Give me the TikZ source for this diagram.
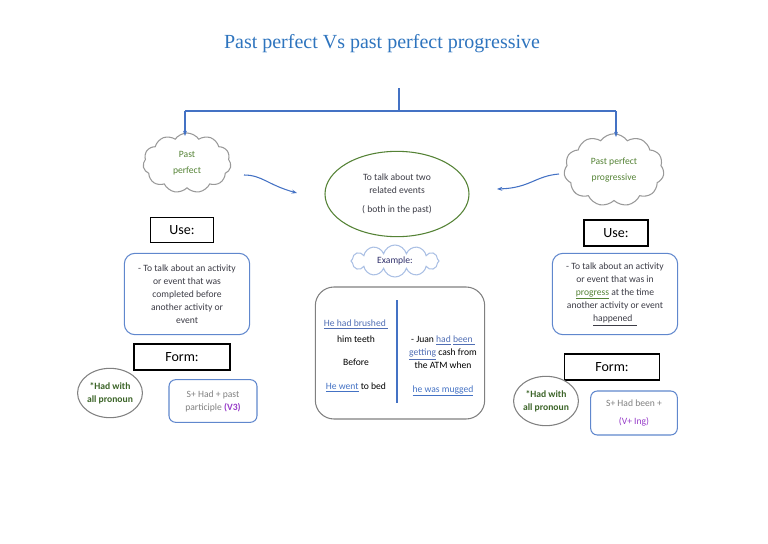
\documentclass[tikz,border=0pt]{standalone}
\usepackage{fontspec}
\setmainfont{Carlito}
\newfontfamily\titlefont{Liberation Serif}
\usetikzlibrary{shapes.symbols,shapes.geometric,arrows.meta}
\definecolor{tblue}{RGB}{46,116,190}
\definecolor{lblue}{RGB}{68,114,196}
\definecolor{dgreen}{RGB}{60,100,40}
\definecolor{ggreen}{RGB}{84,130,53}
\definecolor{purp}{RGB}{150,60,200}
\definecolor{txt}{RGB}{60,60,70}
\definecolor{ulblue}{RGB}{80,110,180}
\newcommand{\ul}[1]{\underline{#1}}
\begin{document}
\begin{tikzpicture}[x=0.75pt,y=-0.75pt,
  every node/.style={font=\fontsize{7.2}{9.8}\selectfont,text=txt,align=center,inner sep=0pt},
  cl/.style={cloud,cloud puffs=11,cloud puff arc=110,draw=gray!80,thick},
  lbl/.style={draw=black,thick,font=\fontsize{10.5}{12}\selectfont,text=black},
  rb/.style={draw=lblue!85,thick,rounded corners=8pt},
  conn/.style={draw=lblue,thick,-{Stealth[length=4pt]}},
  ov/.style={ellipse,draw=gray,thick}]
\useasboundingbox (0,0) rectangle (768,543);
\node[font=\titlefont\fontsize{15}{18}\selectfont,text=tblue] (title) at (382,44) {Past perfect Vs past perfect progressive};
\coordinate (top) at (399,88);
\coordinate (mid) at (399,111);
\coordinate (lc) at (185,111);
\coordinate (rc) at (616,111);
\node[cl,minimum width=66pt,minimum height=45pt,text=ggreen] (pp) at (187,163) {Past\\[2pt]perfect};
\node[cl,minimum width=75pt,minimum height=45pt,text=ggreen] (ppp) at (614,170) {Past perfect\\[2pt]progressive};
\draw[lblue,thick] (top) -- (mid) (lc) -- (rc);
\draw[conn] (lc) -- (185,136);
\draw[conn] (rc) -- (616,137);
\node[ellipse,draw=ggreen,thick,minimum width=108pt,minimum height=64pt] (def) at (397,194) {To talk about two\\related events\\[5pt]( both in the past)};
\coordinate (pa) at (244,175);
\coordinate (pb) at (559,174);
\draw[conn] (pa) .. controls (262,175) and (268,185) .. (297,193);
\draw[conn] (pb) .. controls (535,176) and (530,188) .. (497,189);
\node[lbl,minimum width=47pt,minimum height=19pt] (use1) at (182,230) {Use:};
\node[lbl,minimum width=48pt,minimum height=19.5pt] (use2) at (616,233) {Use:};
\node[rb,minimum width=94pt,minimum height=61pt] (u1) at (187,294) {- To talk about an activity\\or event that was\\completed before\\another activity or\\event};
\node[rb,minimum width=94pt,minimum height=61pt] (u2) at (615,294) {- To talk about an activity\\or event that was in\\{\color{ggreen}\ul{progress}} at the time\\another activity or event\\{\ul{happened\ \ }}};
\node[cloud,cloud puffs=12,aspect=2.8,draw=lblue!45,thick,minimum width=66pt,minimum height=24pt,text=txt!80!blue] (ex) at (395,261) {Example:};
\node[draw=gray,thick,rounded corners=14pt,minimum width=127pt,minimum height=99pt] (exb) at (400,353) {};
\coordinate (d1) at (397,300);
\coordinate (d2) at (397,403);
\draw[lblue,thick] (d1) -- (d2);
\node[text=black] (e1) at (356,356) {{\color{ulblue}\ul{He had brushed }}\\[2pt]him teeth\\[8pt]Before\\[8pt]{\color{lblue}\ul{He went}} to bed};
\node[text=black] (e2) at (443,366) {- Juan {\color{ulblue}\ul{had}} {\color{ulblue}\ul{been }}\\{\color{ulblue}\ul{getting}} cash from\\the ATM when\\[8pt]{\color{lblue}\ul{he was mugged}}};
\node[lbl,minimum width=72pt,minimum height=19.5pt] (f1) at (182,357) {Form:};
\node[lbl,minimum width=71pt,minimum height=19.5pt] (f2) at (612,367) {Form:};
\node[ov,minimum width=45pt,minimum height=37pt,text=dgreen,font=\bfseries\fontsize{7.2}{9.8}\selectfont] (h1) at (110,393) {*Had with\\all pronoun};
\node[ov,minimum width=45pt,minimum height=37pt,text=dgreen,font=\bfseries\fontsize{7.2}{9.8}\selectfont] (h2) at (546,401) {*Had with\\all pronoun};
\node[rb,rounded corners=5pt,minimum width=66pt,minimum height=32pt,text=gray] (fm1) at (213,401) {S+ Had + past\\participle {\color{purp}\bfseries (V3)}};
\node[rb,rounded corners=5pt,minimum width=65pt,minimum height=33pt,text=gray] (fm2) at (634,413) {S+ Had been +\\[3pt]{\color{purp}(V+ Ing)}};
\end{tikzpicture}
\end{document}
